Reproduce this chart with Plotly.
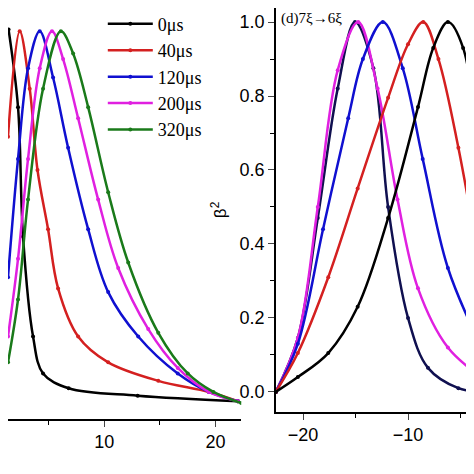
import plotly.graph_objects as go

# left panel: curves at different times
labels = ['0μs', '40μs', '120μs', '200μs', '320μs']
colors = ['black', '#d42020', '#1010d0', '#e020e0', '#1a7a1a']
left_x = [
    [1.4, 2.25, 2.7, 3.6, 4.5, 6.8, 13, 22],
    [1.35, 2.4, 3.3, 4.0, 4.95, 5.85, 7.65, 10.35, 14.85, 19.4, 22],
    [1.35, 2.25, 3.15, 4.2, 5.4, 6.75, 8.55, 10.35, 13.05, 16.6, 19.4, 22],
    [1.35, 2.25, 3.15, 4.2, 5.3, 6.3, 7.65, 9.45, 11.25, 13.95, 16.6, 19.4, 22],
    [1.35, 2.25, 3.15, 4.5, 6.1, 7.2, 8.55, 10.35, 12.15, 14.85, 17.5, 19.8, 22.3],
]
left_y = [
    [0.98, 0.77, 0.42, 0.15, 0.05, 0.01, -0.01, -0.025],
    [0.69, 0.975, 0.82, 0.6, 0.44, 0.28, 0.15, 0.08, 0.03, 0.0, -0.025],
    [0.31, 0.63, 0.875, 0.975, 0.85, 0.66, 0.44, 0.27, 0.15, 0.05, 0.0, -0.025],
    [0.15, 0.36, 0.63, 0.875, 0.975, 0.9, 0.74, 0.52, 0.335, 0.17, 0.065, 0.0, -0.025],
    [0.08, 0.25, 0.52, 0.82, 0.975, 0.915, 0.77, 0.54, 0.35, 0.16, 0.05, 0.0, -0.03],
]

# right panel (d)
right_colors = ['#101050', '#e020e0', '#1010d0', '#d42020', 'black']
right_x = [
    [-22.6, -20.5, -18.6, -16.7, -15.05, -13.3, -11.9, -10, -8.1, -5.2, -3],
    [-22.6, -20.5, -18.6, -16.7, -14.75, -12.9, -11, -9.05, -6.2, -3],
    [-22.6, -20.5, -18.1, -15.7, -14.3, -12.4, -10.5, -8.6, -6.2, -3],
    [-22.6, -20.5, -17.6, -14.8, -11.9, -10, -8.55, -7.1, -5.2, -3],
    [-22.6, -20.5, -17.6, -14.8, -11.9, -9.05, -7.6, -6.2, -4.75, -3],
]
right_y = [
    [0.0, 0.146, 0.47, 0.82, 1.0, 0.875, 0.5, 0.2, 0.065, 0.01, 0.0],
    [0.0, 0.146, 0.5, 0.87, 1.0, 0.82, 0.52, 0.28, 0.12, 0.04],
    [0.0, 0.13, 0.44, 0.74, 0.9, 1.0, 0.875, 0.63, 0.335, 0.12],
    [0.0, 0.105, 0.31, 0.55, 0.795, 0.94, 1.0, 0.9, 0.66, 0.31],
    [0.0, 0.04, 0.105, 0.23, 0.47, 0.77, 0.93, 1.0, 0.93, 0.55],
]

fig = go.Figure()
for name, c, xs, ys in zip(labels, colors, left_x, left_y):
    fig.add_scatter(x=xs, y=ys, name=name, mode='lines+markers', line=dict(color=c, width=2.5, shape='spline'),
                    marker=dict(size=4, color=c), xaxis='x', yaxis='y')
for c, xs, ys in zip(right_colors, right_x, right_y):
    fig.add_scatter(x=xs, y=ys, showlegend=False, mode='lines+markers', line=dict(color=c, width=2.5, shape='spline'),
                    marker=dict(size=4, color=c), xaxis='x2', yaxis='y2')

axfont = dict(family='Liberation Sans', size=18, color='black')
fig.update_layout(
    width=474, height=474, margin=dict(l=0, r=0, t=0, b=0, autoexpand=False),
    paper_bgcolor='white', plot_bgcolor='white',
    showlegend=True,
    legend=dict(x=0.2, y=1.005, xanchor='left', yanchor='top', bgcolor='rgba(0,0,0,0)',
                font=dict(family='Liberation Serif', size=18, color='black'), tracegroupgap=0, itemwidth=45),
    xaxis=dict(domain=[0, 0.492], range=[1.35, 22.3], tickvals=[10, 20], showline=True, linecolor='black',
               linewidth=1.5, ticks='outside', ticklen=6, showgrid=False, zeroline=False, tickfont=axfont,
               minor=dict(tickvals=[5, 15], ticks='outside', ticklen=4, tickcolor='black')),
    yaxis=dict(domain=[0.133, 1], range=[-0.073, 1.038], showticklabels=False, showgrid=False,
               zeroline=False, showline=False),
    xaxis2=dict(domain=[0.565, 1], range=[-22.6, -2.95], tickvals=[-20, -10], anchor='y2', showline=True,
                linecolor='black', linewidth=1.5, ticks='outside', ticklen=6, showgrid=False, zeroline=False,
                tickfont=axfont, minor=dict(tickvals=[-15, -5], ticks='outside', ticklen=4, tickcolor='black')),
    yaxis2=dict(domain=[0.148, 1], range=[-0.054, 1.038], anchor='x2', tickvals=[0, 0.2, 0.4, 0.6, 0.8, 1.0],
                ticktext=['0.0', '0.2', '0.4', '0.6', '0.8', '1.0'], showline=True, linecolor='black',
                linewidth=1.5, ticks='outside', ticklen=6, showgrid=False, zeroline=False, tickfont=axfont,
                minor=dict(tickvals=[0.1, 0.3, 0.5, 0.7, 0.9], ticks='outside', ticklen=4, tickcolor='black'),
                title=dict(text='β<sup>2</sup>', font=dict(family='Liberation Sans', size=17, color='black'),
                           standoff=8)),
    annotations=[dict(text='(d)7ξ→6ξ', xref='paper', yref='paper', x=0.572, y=1.0, xanchor='left',
                      yanchor='top', showarrow=False, font=dict(family='Liberation Serif', size=15, color='black'))],
)

fig.write_html("out.html")
